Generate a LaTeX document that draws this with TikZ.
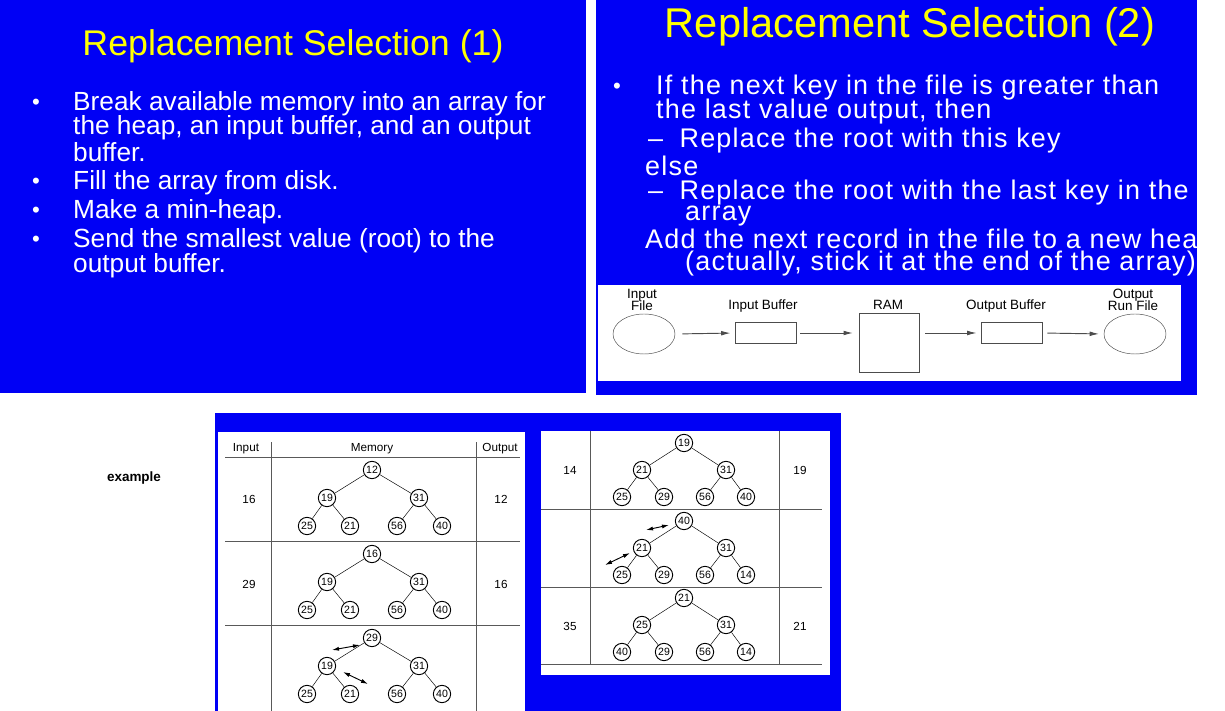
\documentclass[tikz,border=0pt]{standalone}
\usepackage{fontspec}
\setmainfont{Liberation Sans}
\usetikzlibrary{arrows.meta,shapes.geometric}
\definecolor{slideblue}{RGB}{0,0,245}
\definecolor{titleyellow}{RGB}{255,255,0}
\tikzset{
  title/.style={text=titleyellow,font=\fontsize{30.5}{32}\selectfont},
  body/.style={text=white,anchor=west,inner sep=0pt,font=\fontsize{22.4}{23}\selectfont},
  rbody/.style={text=white,anchor=west,inner sep=0pt,font=\fontsize{23}{24}\selectfont\addfontfeature{LetterSpace=4.5}},
  hk/.style={circle,draw,thick,minimum size=0.52cm,inner sep=0pt,font=\fontsize{9}{9}\selectfont},
  tl/.style={font=\fontsize{10}{11}\selectfont},
  grid/.style={draw=gray!70!black,line width=0.5pt},
  flow/.style={-{Latex[length=8pt,width=4pt]},gray!60!black,thick},
  swap/.style={{Latex[length=6pt,width=3.5pt]}-{Latex[length=6pt,width=3.5pt]},thick},
  lbl/.style={font=\fontsize{11.5}{11}\selectfont,align=center}
}
\newcommand\ltree[9]{%
  \node[hk] (#1a) at (372,#2) {#3};
  \node[hk] (#1b) at (327,#2+28) {#4};
  \node[hk] (#1c) at (419,#2+28) {#5};
  \node[hk] (#1d) at (307,#2+56) {#6};
  \node[hk] (#1e) at (350,#2+56) {#7};
  \node[hk] (#1f) at (397,#2+56) {#8};
  \node[hk] (#1g) at (442,#2+56) {#9};
  \draw (#1a)--(#1b) (#1a)--(#1c) (#1b)--(#1d) (#1b)--(#1e) (#1c)--(#1f) (#1c)--(#1g);}
\newcommand\rtree[9]{%
  \node[hk] (#1a) at (684,#2) {#3};
  \node[hk] (#1b) at (642,#2+27) {#4};
  \node[hk] (#1c) at (726,#2+27) {#5};
  \node[hk] (#1d) at (622,#2+54) {#6};
  \node[hk] (#1e) at (664,#2+54) {#7};
  \node[hk] (#1f) at (705,#2+54) {#8};
  \node[hk] (#1g) at (746,#2+54) {#9};
  \draw (#1a)--(#1b) (#1a)--(#1c) (#1b)--(#1d) (#1b)--(#1e) (#1c)--(#1f) (#1c)--(#1g);}
\begin{document}
\begin{tikzpicture}[x=0.03cm,y=-0.03cm]
\useasboundingbox (0,0) rectangle (1225,711);
\fill[white] (0,0) rectangle (1225,711);
% left slide
\fill[slideblue] (0,0) rectangle (586,393);
\node[title] (t1) at (293,46) {Replacement Selection (1)};
\foreach \y/\n in {104/b1,183/b2,212/b3,241/b4}{\node[body,font=\fontsize{19}{19}\selectfont] (\n) at (32,\y) {•};}
\node[body] (l1) at (73,104) {Break available memory into an array for};
\node[body] (l2) at (73,128) {the heap, an input buffer, and an output};
\node[body] (l3) at (73,152) {buffer.};
\node[body] (l4) at (73,183) {Fill the array from disk.};
\node[body] (l5) at (73,212) {Make a min-heap.};
\node[body] (l6) at (73,241) {Send the smallest value (root) to the};
\node[body] (l7) at (73,266) {output buffer.};
% right slide
\fill[slideblue] (596,0) rectangle (1197,395);
\node[title,font=\fontsize{35.5}{36}\selectfont] (t2) at (910,27) {Replacement Selection (2)};
\node[body,font=\fontsize{19}{19}\selectfont] (rb) at (613,88) {•};
\node[rbody] (r1) at (656,88) {If the next key in the file is greater than};
\node[rbody] (r2) at (656,112) {the last value output, then};
\node[rbody] (r3) at (648,141) {–\hspace{14pt}Replace the root with this key};
\node[rbody] (r4) at (645,166) {else};
\node[rbody] (r5) at (648,193) {–\hspace{14pt}Replace the root with the last key in the};
\node[rbody] (r6) at (685,216) {array};
\node[rbody] (r7) at (645,242) {Add the next record in the file to a new heap};
\node[rbody] (r8) at (685,264) {(actually, stick it at the end of the array).};
% flow diagram
\fill[white] (598,285) rectangle (1181,381);
\node[ellipse,draw,gray!60!black,minimum width=62*0.03cm,minimum height=40*0.03cm] (inf) at (644,334) {};
\node[draw,gray!60!black,minimum width=61*0.03cm,minimum height=21*0.03cm] (inb) at (766,333) {};
\node[draw,gray!60!black,minimum width=60*0.03cm,minimum height=59*0.03cm] (ram) at (889,343) {};
\node[draw,gray!60!black,minimum width=61*0.03cm,minimum height=21*0.03cm] (outb) at (1012,333) {};
\node[ellipse,draw,gray!60!black,minimum width=62*0.03cm,minimum height=40*0.03cm] (outf) at (1135,334) {};
\node[lbl] (linf) at (642,300) {Input\\[-1pt]File};
\node[lbl] (linb) at (763,306) {Input Buffer};
\node[lbl] (lram) at (888,305) {RAM};
\node[lbl] (loutb) at (1006,306) {Output Buffer};
\node[lbl] (loutf) at (1133,300) {Output\\[-1pt]Run File};
\draw[flow,shorten <=6pt,shorten >=4pt] (inf.east) -- (inb.west);
\draw[flow,shorten <=3pt,shorten >=5pt] (inb.east) -- (ram.west|-inb.east);
\draw[flow,shorten <=5pt,shorten >=4pt] (ram.east|-outb.west) -- (outb.west);
\draw[flow,shorten <=4pt,shorten >=4pt] (outb.east) -- (outf.west);
% example
\node[font=\bfseries\fontsize{11.5}{12}\selectfont] (ex) at (134,478) {example};
\fill[slideblue] (215,413) rectangle (841,711);
\fill[white] (218,432) rectangle (525,711);
\fill[white] (541,431) rectangle (830,675);
% left table
\draw[grid] (225,457) -- (520,457) (225,541) -- (520,541) (225,625) -- (520,625);
\draw[grid] (271,442) -- (271,711) (476,442) -- (476,711);
\node[tl] (hin) at (246,449) {Input};
\node[tl] (hmem) at (372,449) {Memory};
\node[tl] (hout) at (500,449) {Output};
\node[tl] (i1) at (249,499) {16};
\node[tl] (o1) at (501,499) {12};
\node[tl] (i2) at (249,584) {29};
\node[tl] (o2) at (501,584) {16};
\ltree{A}{470}{12}{19}{31}{25}{21}{56}{40}
\ltree{B}{554}{16}{19}{31}{25}{21}{56}{40}
\ltree{C}{638}{29}{19}{31}{25}{21}{56}{40}
\coordinate (s1a) at (332,650); \coordinate (s1b) at (360,645);
\coordinate (s2a) at (343,672); \coordinate (s2b) at (368,684);
\draw[swap] (s1a) -- (s1b);
\draw[swap] (s2a) -- (s2b);
% right table
\draw[grid] (541,509) -- (822,509) (541,587) -- (822,587) (541,664) -- (822,664);
\draw[grid] (590,431) -- (590,664) (779,431) -- (779,664);
\node[tl] (i3) at (570,470) {14};
\node[tl] (o3) at (800,470) {19};
\node[tl] (i4) at (570,626) {35};
\node[tl] (o4) at (800,626) {21};
\rtree{D}{443}{19}{21}{31}{25}{29}{56}{40}
\rtree{E}{521}{40}{21}{31}{25}{29}{56}{14}
\rtree{F}{598}{21}{25}{31}{40}{29}{56}{14}
\coordinate (s3a) at (646,530); \coordinate (s3b) at (669,525);
\coordinate (s4a) at (605,565); \coordinate (s4b) at (630,553);
\draw[swap] (s3a) -- (s3b);
\draw[swap] (s4a) -- (s4b);
\end{tikzpicture}
\end{document}
